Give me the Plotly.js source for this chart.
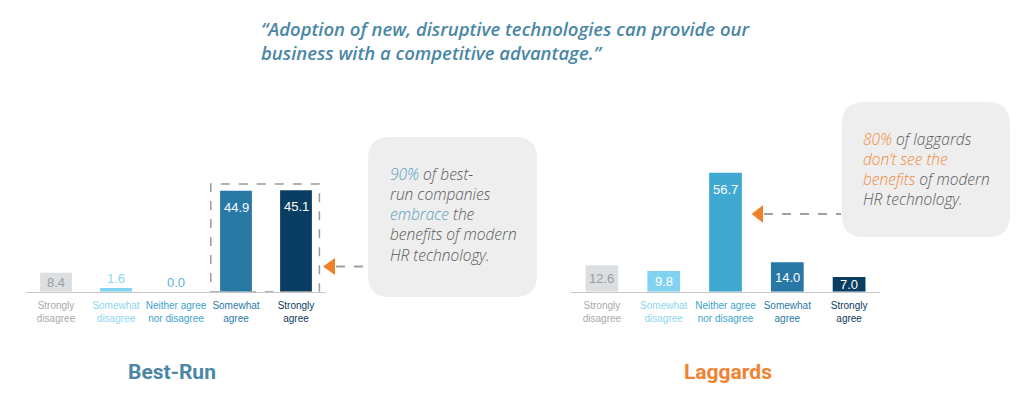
<!DOCTYPE html>
<html>
<head>
<meta charset="utf-8">
<script src="https://cdn.plot.ly/plotly-3.0.1.min.js"></script>
<style>html,body{margin:0;padding:0;background:#fff;}#chart{width:1024px;height:413px;}</style>
</head>
<body>
<div id="chart"></div>
<script>
// ---- data ----
const categories = ["Strongly disagree", "Somewhat disagree", "Neither agree nor disagree", "Somewhat agree", "Strongly agree"];
const tickLines = [["Strongly", "disagree"], ["Somewhat", "disagree"], ["Neither agree", "nor disagree"], ["Somewhat", "agree"], ["Strongly", "agree"]];
const bestRunValues = [8.4, 1.6, 0.0, 44.9, 45.1];
const laggardValues = [12.6, 9.8, 56.7, 14.0, 7.0];
const groupTitles = ["Best-Run", "Laggards"];
const chartTitleLines = ["\u201CAdoption of new, disruptive technologies can provide our", "business with a competitive advantage.\u201D"];

// ---- styles ----
const barColors = ["#dcdfe1", "#82d3f0", "#40a9d2", "#2878a6", "#0a3d62"];
const labelColors = ["#a9a9a9", "#8ed6f1", "#3ba3cc", "#2b79a5", "#0b3a5d"];
const W = 1024, H = 413;
const px = x => x / W, py = y => 1 - y / H;
const baseY = 291.7;
const scaleL = 2.25, scaleR = 2.1;
const numFont = "Liberation Sans, Arial, sans-serif";

function tickText() {
  return tickLines.map((l, i) =>
    `<span style="color:${labelColors[i]}">${l[0]}</span><br><span style="color:${labelColors[i]}">${l[1]}</span>`);
}

function valueAnnots(values, xref, yref, scale) {
  return values.map((v, i) => {
    const h = v * scale;
    let y, yanchor, yshift = 0, color;
    if (h >= 40) { y = v; yanchor = "top"; yshift = -7; color = "#ffffff"; }
    else if (h >= 14) { y = v / 2; yanchor = "middle"; color = i === 0 ? "#9c9c9c" : "#ffffff"; }
    else { y = v; yanchor = "bottom"; color = i === 0 ? "#9c9c9c" : (i === 2 ? "#5ab4da" : labelColors[i]); }
    return {xref, yref, x: categories[i], y, yanchor, yshift, xanchor: "center",
      text: v.toFixed(1), showarrow: false,
      font: {family: numFont, size: 13, color}};
  });
}

function roundRect(x0, y0, x1, y1, r) {
  const rx = r / W, ry = r / H;
  const L = px(x0), R = px(x1), T = py(y0), B = py(y1);
  return `M ${L + rx},${T} L ${R - rx},${T} Q ${R},${T} ${R},${T - ry} L ${R},${B + ry} Q ${R},${B} ${R - rx},${B} L ${L + rx},${B} Q ${L},${B} ${L},${B + ry} L ${L},${T - ry} Q ${L},${T} ${L + rx},${T} Z`;
}
function tri(tx, ty, bx, half) {
  return `M ${px(tx)},${py(ty)} L ${px(bx)},${py(ty - half)} L ${px(bx)},${py(ty + half)} Z`;
}

const traces = [
  {type: "bar", x: categories, y: bestRunValues, xaxis: "x", yaxis: "y",
   marker: {color: barColors}, hoverinfo: "x+y"},
  {type: "bar", x: categories, y: laggardValues, xaxis: "x2", yaxis: "y2",
   marker: {color: barColors}, hoverinfo: "x+y"}
];

const axisX = (domain, anchor) => ({
  domain, anchor, type: "category", categoryorder: "array", categoryarray: categories,
  tickvals: categories, ticktext: tickText(), ticks: "", showgrid: false, zeroline: false,
  showline: true, linecolor: "#c6c6c6", linewidth: 1.5,
  tickfont: {family: numFont, size: 10}, ticklabelstandoff: 4, fixedrange: true
});
const axisY = (range, anchor) => ({
  domain: [py(baseY), 1], anchor, range, visible: false, showgrid: false, zeroline: false, fixedrange: true
});

const agreeTop = Math.max(bestRunValues[3], bestRunValues[4]) + 2.8;

const shapes = [
  {type: "rect", xref: "x", yref: "y", x0: 2.58, x1: 4.39, y0: 0, y1: agreeTop,
   line: {color: "#9a9a9a", width: 1.5, dash: "dash"}, fillcolor: "rgba(0,0,0,0)", layer: "above"},
  {type: "path", xref: "paper", yref: "paper", path: roundRect(368, 137, 537, 297, 22),
   fillcolor: "#eeeeee", line: {width: 0}, layer: "below"},
  {type: "path", xref: "paper", yref: "paper", path: roundRect(842, 102, 1010, 237, 22),
   fillcolor: "#eeeeee", line: {width: 0}, layer: "below"},
  {type: "line", xref: "paper", yref: "paper", x0: px(336), x1: px(366), y0: py(266.5), y1: py(266.5),
   line: {color: "#a0a0a0", width: 1.8, dash: "dash"}},
  {type: "path", xref: "paper", yref: "paper", path: tri(323, 266.5, 335, 8.5),
   fillcolor: "#f07f2a", line: {width: 0}},
  {type: "line", xref: "paper", yref: "paper", x0: px(764), x1: px(841), y0: py(214), y1: py(214),
   line: {color: "#a0a0a0", width: 1.8, dash: "dash"}},
  {type: "path", xref: "paper", yref: "paper", path: tri(751.7, 214, 763, 9),
   fillcolor: "#f07f2a", line: {width: 0}}
];

const blue = "#5a9dc0", orange = "#f28a3c";
const calloutFont = {family: "Open Sans, sans-serif", size: 15.5, color: "#5a5a5a", style: "italic", weight: 300};
const titleFont = {family: "Open Sans, sans-serif", size: 18.5, color: "#4a87a4", style: "italic", weight: 600};
const groupFont = c => ({family: "Roboto, Liberation Sans, sans-serif", size: 21, color: c, weight: 700});

const annotations = [
  {xref: "paper", yref: "paper", x: px(260), y: py(40.4), xanchor: "left", yanchor: "middle", showarrow: false,
   align: "left", borderpad: 0, text: chartTitleLines.join("<br>"), font: titleFont},
  {xref: "paper", yref: "paper", x: px(171.7), y: py(372), xanchor: "center", yanchor: "middle", showarrow: false,
   text: groupTitles[0], font: groupFont("#4a87a4")},
  {xref: "paper", yref: "paper", x: px(728), y: py(372), xanchor: "center", yanchor: "middle", showarrow: false,
   text: groupTitles[1], font: groupFont("#f08231")},
  {xref: "paper", yref: "paper", x: px(388), y: py(161), xanchor: "left", yanchor: "top", align: "left", showarrow: false,
   text: `<span style="color:${blue}">90%</span> of best-<br>run companies<br><span style="color:${blue}">embrace</span> the<br>benefits of modern<br>HR technology.`,
   font: calloutFont},
  {xref: "paper", yref: "paper", x: px(861), y: py(126), xanchor: "left", yanchor: "top", align: "left", showarrow: false,
   text: `<span style="color:${orange}">80%</span> of laggards<br><span style="color:${orange}">don\u2019t see the</span><br><span style="color:${orange}">benefits</span> of modern<br>HR technology.`,
   font: calloutFont}
].concat(valueAnnots(bestRunValues, "x", "y", scaleL), valueAnnots(laggardValues, "x2", "y2", scaleR));

const layout = {
  width: W, height: H,
  margin: {l: 0, r: 0, t: 0, b: 0},
  paper_bgcolor: "#ffffff", plot_bgcolor: "rgba(0,0,0,0)",
  showlegend: false, bargap: 0.47,
  xaxis: axisX([px(26), px(326)], "y"),
  yaxis: axisY([0, baseY / scaleL], "x"),
  xaxis2: axisX([px(571), px(880)], "y2"),
  yaxis2: axisY([0, baseY / scaleR], "x2"),
  shapes, annotations
};

Plotly.newPlot("chart", traces, layout, {displayModeBar: false, staticPlot: true});
</script>
</body>
</html>
